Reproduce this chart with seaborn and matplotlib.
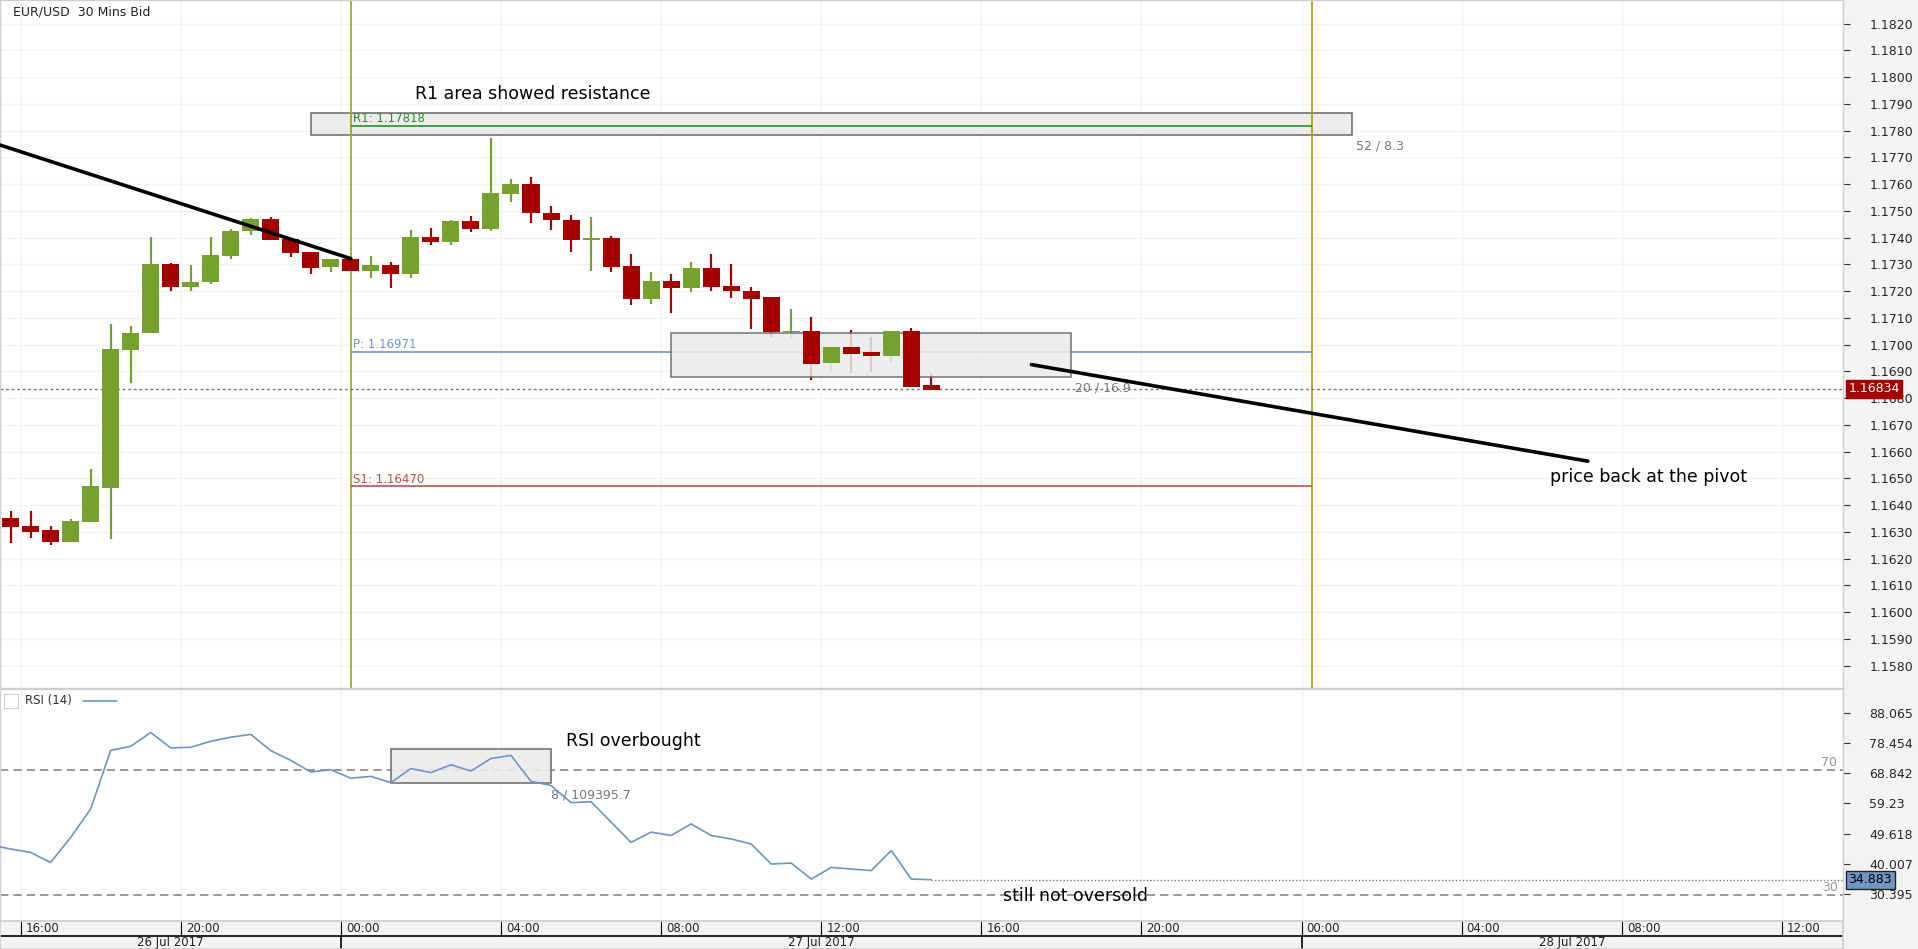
import numpy as np
import pandas as pd
import matplotlib
matplotlib.use("Agg")
import matplotlib.pyplot as plt
import matplotlib.transforms as mtrans
from matplotlib.patches import Rectangle
import seaborn as sns

sns.set_theme(style="white")
plt.rcParams['font.family'] = ['DejaVu Sans']

# ---------------- data ----------------
opens = [1.16351, 1.16321, 1.16306, 1.16263, 1.16338, 1.16465, 1.16981, 1.17044, 1.17301, 1.17216,
         1.17234, 1.17331, 1.17426, 1.17469, 1.17394, 1.17346, 1.17291, 1.17320, 1.17276, 1.17297,
         1.17265, 1.17402, 1.17384, 1.17462, 1.17433, 1.17564, 1.17600, 1.17492, 1.17465, 1.17392,
         1.17398, 1.17293, 1.17171, 1.17237, 1.17212, 1.17286, 1.17219, 1.17200, 1.17178, 1.17048,
         1.17050, 1.16932, 1.16991, 1.16971, 1.16958, 1.17050, 1.16849]
closes = [1.16319, 1.16300, 1.16263, 1.16340, 1.16471, 1.16983, 1.17042, 1.17301, 1.17216, 1.17234,
          1.17335, 1.17424, 1.17469, 1.17392, 1.17343, 1.17287, 1.17320, 1.17276, 1.17297, 1.17265,
          1.17402, 1.17384, 1.17462, 1.17433, 1.17566, 1.17600, 1.17493, 1.17467, 1.17392, 1.17398,
          1.17291, 1.17171, 1.17237, 1.17212, 1.17286, 1.17216, 1.17201, 1.17171, 1.17048, 1.17052,
          1.16928, 1.16991, 1.16966, 1.16958, 1.17050, 1.16842, 1.16831]
highs = [1.16378, 1.16378, 1.16321, 1.16348, 1.16535, 1.17077, 1.17069, 1.17402, 1.17303, 1.17297,
         1.17402, 1.17432, 1.17474, 1.17477, 1.17394, 1.17346, 1.17320, 1.17320, 1.17331, 1.17308,
         1.17428, 1.17436, 1.17465, 1.17480, 1.17772, 1.17619, 1.17626, 1.17518, 1.17484, 1.17477,
         1.17406, 1.17338, 1.17271, 1.17264, 1.17308, 1.17338, 1.17301, 1.17215, 1.17178, 1.17133,
         1.17103, 1.16994, 1.17054, 1.17028, 1.17050, 1.17062, 1.16894]
lows = [1.16259, 1.16278, 1.16252, 1.16263, 1.16338, 1.16274, 1.16857, 1.17044, 1.17201, 1.17201,
        1.17227, 1.17321, 1.17409, 1.17392, 1.17328, 1.17264, 1.17271, 1.17276, 1.17250, 1.17212,
        1.17250, 1.17372, 1.17372, 1.17421, 1.17424, 1.17534, 1.17456, 1.17429, 1.17347, 1.17276,
        1.17272, 1.17149, 1.17153, 1.17119, 1.17197, 1.17201, 1.17175, 1.17059, 1.17029, 1.17022,
        1.16869, 1.16898, 1.16895, 1.16898, 1.16936, 1.16842, 1.16831]
rsi = [44.7, 43.6, 40.4, 48.4, 57.5, 76.2, 77.5, 81.9, 77.0, 77.2,
       79.1, 80.4, 81.3, 76.1, 73.0, 69.3, 70.0, 67.3, 67.9, 65.9,
       70.4, 69.1, 71.6, 69.6, 73.6, 74.6, 66.3, 65.0, 59.5, 59.8,
       53.3, 46.8, 50.1, 49.0, 52.7, 49.0, 47.9, 46.3, 39.9, 40.2,
       35.1, 38.8, 38.3, 37.8, 44.2, 35.1, 34.883]
rsi_prev = 46.0

pivot_p, pivot_r1, pivot_s1 = 1.16971, 1.17818, 1.16470
last_price = 1.16834
last_rsi = 34.883

time_labels = ["16:00", "20:00", "00:00", "04:00", "08:00", "12:00",
               "16:00", "20:00", "00:00", "04:00", "08:00", "12:00"]
time_ticks = [1, 9, 17, 25, 33, 41, 49, 57, 65, 73, 81, 89]
day_labels = ["26 Jul 2017", "27 Jul 2017", "28 Jul 2017"]
day_bounds = [-0.03, 17, 65, 92.05]

price_ticks = [round(1.1580 + 0.001 * k, 4) for k in range(25)]
rsi_ticks = [30.395, 40.007, 49.618, 59.23, 68.842, 78.454, 88.065]

df = pd.DataFrame({"open": opens, "close": closes, "high": highs, "low": lows, "rsi": rsi})
df["x"] = np.arange(len(df)) + 0.5
df["up"] = df["close"] >= df["open"]

GREEN = "#76a12e"
RED = "#a50000"
OLIVE = "#a3a300"
GRID = "#f2f2f2"
XMIN, XMAX = -0.03, 92.05

W, H = 1918, 949
fig = plt.figure(figsize=(W / 100, H / 100), dpi=100)
fig.patch.set_facecolor("white")

def fr(l, t, r, b):
    return [l / W, 1 - b / H, (r - l) / W, (b - t) / H]

bg = fig.add_axes(fr(1843, 0, W, H))
bg.set_facecolor("#f3f3f6")
bg.set_xticks([]); bg.set_yticks([])
for s in bg.spines.values():
    s.set_visible(False)

ax = fig.add_axes(fr(0, 0, 1843, 688))
ar = fig.add_axes(fr(0, 689, 1843, 921))
at = fig.add_axes(fr(0, 921, 1843, H))

for a in (ax, ar):
    a.set_xlim(XMIN, XMAX)
    for s in a.spines.values():
        s.set_color("#cfcfcf")
        s.set_linewidth(1)
    a.set_xticks(time_ticks)
    a.set_xticklabels([])
    a.tick_params(axis="x", length=0)
    a.grid(axis="x", color=GRID, linewidth=1)

# ---------------- main price panel ----------------
ax.set_ylim(1.15716, 1.18288)
ax.yaxis.tick_right()
ax.set_yticks(price_ticks)
ax.set_yticklabels([f"{v:.4f}" for v in price_ticks])
ax.tick_params(axis="y", length=5, width=0.8, color="#333333", labelsize=9, pad=14, right=True)
ax.grid(axis="y", color=GRID, linewidth=1)
ax.set_axisbelow(True)

colors = np.where(df["up"], GREEN, RED)
ax.vlines(df["x"], df["low"], df["high"], colors=colors, linewidth=1.6, zorder=3)
body = (df["close"] - df["open"]).to_numpy()
body = np.where(np.abs(body) < 0.00004, np.sign(body + 1e-12) * 0.00004, body)
ax.bar(df["x"], body, bottom=df["open"], width=0.85, color=colors, linewidth=0, zorder=4)

# pivot verticals and levels
ax.axvline(17.5, color=OLIVE, linewidth=1.2, zorder=2)
ax.axvline(65.5, color=OLIVE, linewidth=1.2, zorder=2)
ax.hlines(pivot_r1, 17.5, 65.5, color="#2e8b2e", linewidth=1.2, zorder=2)
ax.hlines(pivot_p, 17.5, 65.5, color="#6f95c4", linewidth=1.2, zorder=2)
ax.hlines(pivot_s1, 17.5, 65.5, color="#c0504d", linewidth=1.2, zorder=2)
ax.text(17.6, pivot_r1 + 0.00003, f"R1: {pivot_r1:.5f}", color="#2e8b2e", fontsize=8.5, va="bottom", zorder=5)
ax.text(17.6, pivot_p + 0.00003, f"P: {pivot_p:.5f}", color="#6f95c4", fontsize=8.5, va="bottom", zorder=5)
ax.text(17.6, pivot_s1 + 0.00003, f"S1: {pivot_s1:.5f}", color="#c0504d", fontsize=8.5, va="bottom", zorder=5)

# boxes
ax.add_patch(Rectangle((15.5, 1.17785), 52.0, 0.00082, facecolor="#ebebeb", edgecolor="#666666",
                       linewidth=1.2, alpha=0.9, zorder=1.5))
ax.add_patch(Rectangle((33.5, 1.16880), 20.0, 0.00164, facecolor="#ebebeb", edgecolor="#666666",
                       linewidth=1.2, alpha=0.85, zorder=3.5))
ax.text(67.7, 1.17744, "52 / 8.3", color="#777777", fontsize=9, va="center")
ax.text(53.7, 1.16838, "20 / 16.9", color="#777777", fontsize=9, va="center")

# current price
ax.axhline(last_price, color="#777777", linestyle=(0, (2, 2)), linewidth=1, zorder=2)
ax.text(1.003, last_price, f"{last_price:.5f}", transform=mtrans.blended_transform_factory(ax.transAxes, ax.transData),
        color="white", fontsize=9, va="center", ha="left", zorder=10, clip_on=False,
        bbox=dict(boxstyle="square,pad=0.2", facecolor=RED, edgecolor=RED))

# trend lines
ax.plot([-0.035, 17.5], [1.17746, 1.17321], color="black", linewidth=2.6, zorder=6)
ax.plot([51.5, 79.3], [1.16925, 1.16564], color="black", linewidth=2.6, zorder=6)

# annotations
ax.text(26.6, 1.17936, "R1 area showed resistance", fontsize=12.5, ha="center", va="center", color="black")
ax.text(77.4, 1.16505, "price back at the pivot", fontsize=12.5, ha="left", va="center", color="black")
ax.text(0.6, 1.18245, "EUR/USD  30 Mins Bid", fontsize=9, ha="left", va="center", color="#222222")

# ---------------- RSI panel ----------------
ar.set_ylim(21.7, 95.8)
ar.yaxis.tick_right()
ar.set_yticks(rsi_ticks)
ar.set_yticklabels([f"{v:g}" if v != 59.23 else "59.23" for v in rsi_ticks])
ar.tick_params(axis="y", length=5, width=0.8, color="#333333", labelsize=9, pad=14, right=True)
ar.set_axisbelow(True)
rsi_x = np.concatenate([[-0.5], df["x"].to_numpy()])
rsi_y = np.concatenate([[rsi_prev], df["rsi"].to_numpy()])
sns.lineplot(x=rsi_x, y=rsi_y, ax=ar, color="#6f95c4", linewidth=1.2, zorder=4)
ar.hlines(last_rsi, df["x"].iloc[-1], XMAX, color="#777777", linestyle=(0, (1, 1.5)), linewidth=1)
ar.axhline(70, color="#888888", linestyle=(0, (5, 3)), linewidth=1.2)
ar.axhline(30, color="#888888", linestyle=(0, (5, 3)), linewidth=1.2)
ar.text(0.997, 70.4, "70", transform=mtrans.blended_transform_factory(ar.transAxes, ar.transData),
        ha="right", va="bottom", color="#999999", fontsize=9)
ar.text(0.997, 30.4, "30", transform=mtrans.blended_transform_factory(ar.transAxes, ar.transData),
        ha="right", va="bottom", color="#999999", fontsize=9)
ar.text(1.003, last_rsi, f"{last_rsi:.3f}", transform=mtrans.blended_transform_factory(ar.transAxes, ar.transData),
        color="black", fontsize=9, va="center", ha="left", zorder=10, clip_on=False,
        bbox=dict(boxstyle="square,pad=0.2", facecolor="#6f95c4", edgecolor="#222222"))
ar.add_patch(Rectangle((19.5, 65.65), 8.0, 10.9, facecolor="#ebebeb", edgecolor="#666666",
                       linewidth=1.2, alpha=0.9, zorder=3))
ar.text(31.6, 79.1, "RSI overbought", fontsize=12.5, ha="center", va="center", color="black")
ar.text(29.5, 62.1, "8 / 109395.7", fontsize=9, ha="center", va="center", color="#777777")
ar.text(53.7, 29.8, "still not oversold", fontsize=12.5, ha="center", va="center", color="black")
ar.text(1.2, 92.0, "RSI (14)", fontsize=8.5, ha="left", va="center", color="#333333")
ar.add_patch(Rectangle((0.15, 89.8), 0.7, 4.4, facecolor="white", edgecolor="#cccccc", linewidth=0.8))
ar.plot([4.1, 5.8], [92.0, 92.0], color="#6f95c4", linewidth=1.2)

# ---------------- time axis ----------------
at.set_xlim(XMIN, XMAX)
at.set_ylim(0, 1)
at.set_facecolor("#f3f3f6")
at.set_xticks([]); at.set_yticks([])
for s in at.spines.values():
    s.set_color("#cfcfcf")
at.axhline(0.47, color="black", linewidth=1.2)
at.vlines(time_ticks, 0.47, 1.0, color="black", linewidth=0.8)
for t, lab in zip(time_ticks, time_labels):
    at.text(t + 0.25, 0.73, lab, fontsize=8.5, ha="left", va="center", color="#222222")
at.vlines(day_bounds[1:3], 0, 0.47, color="black", linewidth=1.2)
for i, lab in enumerate(day_labels):
    at.text((day_bounds[i] + day_bounds[i + 1]) / 2, 0.22, lab, fontsize=8.5, ha="center", va="center", color="#222222")

fig.savefig("out.png", dpi=100)
